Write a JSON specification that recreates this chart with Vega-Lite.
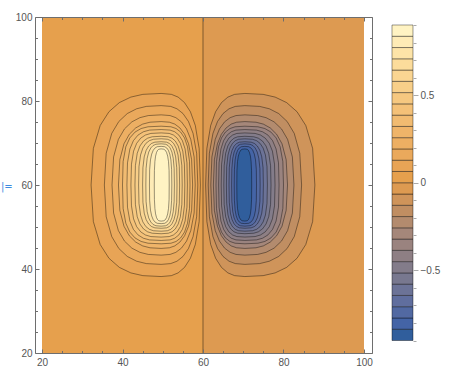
{
"$schema":"https://vega.github.io/schema/vega-lite/v6.json",
"background":"white",
"padding":{"left":0,"top":12,"right":5,"bottom":5},
"width":337,"height":336,
"config":{"view":{"stroke":null},"axis":{"labelFont":"Liberation Sans","labelFontSize":10,"labelColor":"#555555","tickColor":"#6e6e6e","domainColor":"#6e6e6e","grid":false,"labelFlush":false,"labelOverlap":false}},
"datasets":{
"bg":[{"x1":20,"x2":60,"y1":20,"y2":100,"b":0},{"x1":60,"x2":100,"y1":20,"y2":100,"b":-1}],
"zero":[{"x":60,"y1":20,"y2":100}],
"glyph":[{"label":"|="}],
"bands":[
{"b":-14,"lo":-0.9,"hi":-0.8357},{"b":-13,"lo":-0.8357,"hi":-0.7714},{"b":-12,"lo":-0.7714,"hi":-0.7071},{"b":-11,"lo":-0.7071,"hi":-0.6429},{"b":-10,"lo":-0.6429,"hi":-0.5786},{"b":-9,"lo":-0.5786,"hi":-0.5143},{"b":-8,"lo":-0.5143,"hi":-0.45},{"b":-7,"lo":-0.45,"hi":-0.3857},{"b":-6,"lo":-0.3857,"hi":-0.3214},{"b":-5,"lo":-0.3214,"hi":-0.2571},{"b":-4,"lo":-0.2571,"hi":-0.1929},{"b":-3,"lo":-0.1929,"hi":-0.1286},{"b":-2,"lo":-0.1286,"hi":-0.0643},{"b":-1,"lo":-0.0643,"hi":0},
{"b":0,"lo":0,"hi":0.0643},{"b":1,"lo":0.0643,"hi":0.1286},{"b":2,"lo":0.1286,"hi":0.1929},{"b":3,"lo":0.1929,"hi":0.2571},{"b":4,"lo":0.2571,"hi":0.3214},{"b":5,"lo":0.3214,"hi":0.3857},{"b":6,"lo":0.3857,"hi":0.45},{"b":7,"lo":0.45,"hi":0.5143},{"b":8,"lo":0.5143,"hi":0.5786},{"b":9,"lo":0.5786,"hi":0.6429},{"b":10,"lo":0.6429,"hi":0.7071},{"b":11,"lo":0.7071,"hi":0.7714},{"b":12,"lo":0.7714,"hi":0.8357},{"b":13,"lo":0.8357,"hi":0.9}],
"cont":[
{"k":1,"n":-2,"y":38.2,"xa":49.6,"xb":49.6,"xc":70.4,"xd":70.4},
{"k":1,"n":-2,"y":38.42,"xa":45.05,"xb":52.15,"xc":67.85,"xd":74.95},
{"k":1,"n":-2,"y":39.07,"xa":42.07,"xb":53.82,"xc":66.18,"xd":77.93},
{"k":1,"n":-2,"y":40.38,"xa":39.22,"xb":55.41,"xc":64.59,"xd":80.78},
{"k":1,"n":-2,"y":42.56,"xa":36.63,"xb":56.87,"xc":63.13,"xd":83.37},
{"k":1,"n":-2,"y":45.83,"xa":34.46,"xb":58.09,"xc":61.91,"xd":85.54},
{"k":1,"n":-2,"y":51.28,"xa":32.76,"xb":59.04,"xc":60.96,"xd":87.24},
{"k":1,"n":-2,"y":60,"xa":32.2,"xb":59.35,"xc":60.65,"xd":87.8},
{"k":1,"n":-2,"y":68.72,"xa":32.76,"xb":59.04,"xc":60.96,"xd":87.24},
{"k":1,"n":-2,"y":74.17,"xa":34.46,"xb":58.09,"xc":61.91,"xd":85.54},
{"k":1,"n":-2,"y":77.44,"xa":36.63,"xb":56.87,"xc":63.13,"xd":83.37},
{"k":1,"n":-2,"y":79.62,"xa":39.22,"xb":55.41,"xc":64.59,"xd":80.78},
{"k":1,"n":-2,"y":80.93,"xa":42.07,"xb":53.82,"xc":66.18,"xd":77.93},
{"k":1,"n":-2,"y":81.58,"xa":45.05,"xb":52.15,"xc":67.85,"xd":74.95},
{"k":1,"n":-2,"y":81.8,"xa":49.6,"xb":49.6,"xc":70.4,"xd":70.4},
{"k":2,"n":-3,"y":41.1,"xa":49.6,"xb":49.6,"xc":70.4,"xd":70.4},
{"k":2,"n":-3,"y":41.29,"xa":45.91,"xb":51.98,"xc":68.02,"xd":74.09},
{"k":2,"n":-3,"y":41.86,"xa":43.5,"xb":53.54,"xc":66.46,"xd":76.5},
{"k":2,"n":-3,"y":42.99,"xa":41.19,"xb":55.03,"xc":64.97,"xd":78.81},
{"k":2,"n":-3,"y":44.88,"xa":39.09,"xb":56.39,"xc":63.61,"xd":80.91},
{"k":2,"n":-3,"y":47.71,"xa":37.33,"xb":57.53,"xc":62.47,"xd":82.67},
{"k":2,"n":-3,"y":52.44,"xa":35.95,"xb":58.42,"xc":61.58,"xd":84.05},
{"k":2,"n":-3,"y":60,"xa":35.5,"xb":58.71,"xc":61.29,"xd":84.5},
{"k":2,"n":-3,"y":67.56,"xa":35.95,"xb":58.42,"xc":61.58,"xd":84.05},
{"k":2,"n":-3,"y":72.29,"xa":37.33,"xb":57.53,"xc":62.47,"xd":82.67},
{"k":2,"n":-3,"y":75.12,"xa":39.09,"xb":56.39,"xc":63.61,"xd":80.91},
{"k":2,"n":-3,"y":77.01,"xa":41.19,"xb":55.03,"xc":64.97,"xd":78.81},
{"k":2,"n":-3,"y":78.14,"xa":43.5,"xb":53.54,"xc":66.46,"xd":76.5},
{"k":2,"n":-3,"y":78.71,"xa":45.91,"xb":51.98,"xc":68.02,"xd":74.09},
{"k":2,"n":-3,"y":78.9,"xa":49.6,"xb":49.6,"xc":70.4,"xd":70.4},
{"k":3,"n":-4,"y":43.3,"xa":49.6,"xb":49.6,"xc":70.4,"xd":70.4},
{"k":3,"n":-4,"y":43.47,"xa":46.41,"xb":51.81,"xc":68.19,"xd":73.59},
{"k":3,"n":-4,"y":43.97,"xa":44.32,"xb":53.26,"xc":66.74,"xd":75.68},
{"k":3,"n":-4,"y":44.97,"xa":42.33,"xb":54.64,"xc":65.36,"xd":77.67},
{"k":3,"n":-4,"y":46.64,"xa":40.5,"xb":55.91,"xc":64.09,"xd":79.5},
{"k":3,"n":-4,"y":49.14,"xa":38.98,"xb":56.96,"xc":63.04,"xd":81.02},
{"k":3,"n":-4,"y":53.32,"xa":37.79,"xb":57.79,"xc":62.21,"xd":82.21},
{"k":3,"n":-4,"y":60,"xa":37.4,"xb":58.06,"xc":61.94,"xd":82.6},
{"k":3,"n":-4,"y":66.68,"xa":37.79,"xb":57.79,"xc":62.21,"xd":82.21},
{"k":3,"n":-4,"y":70.86,"xa":38.98,"xb":56.96,"xc":63.04,"xd":81.02},
{"k":3,"n":-4,"y":73.36,"xa":40.5,"xb":55.91,"xc":64.09,"xd":79.5},
{"k":3,"n":-4,"y":75.03,"xa":42.33,"xb":54.64,"xc":65.36,"xd":77.67},
{"k":3,"n":-4,"y":76.03,"xa":44.32,"xb":53.26,"xc":66.74,"xd":75.68},
{"k":3,"n":-4,"y":76.53,"xa":46.41,"xb":51.81,"xc":68.19,"xd":73.59},
{"k":3,"n":-4,"y":76.7,"xa":49.6,"xb":49.6,"xc":70.4,"xd":70.4},
{"k":4,"n":-5,"y":44.9,"xa":49.6,"xb":49.6,"xc":70.4,"xd":70.4},
{"k":4,"n":-5,"y":45.05,"xa":46.83,"xb":51.65,"xc":68.35,"xd":73.17},
{"k":4,"n":-5,"y":45.5,"xa":45.01,"xb":52.99,"xc":67.01,"xd":74.99},
{"k":4,"n":-5,"y":46.41,"xa":43.28,"xb":54.26,"xc":65.74,"xd":76.72},
{"k":4,"n":-5,"y":47.92,"xa":41.7,"xb":55.43,"xc":64.57,"xd":78.3},
{"k":4,"n":-5,"y":50.18,"xa":40.37,"xb":56.41,"xc":63.59,"xd":79.63},
{"k":4,"n":-5,"y":53.96,"xa":39.34,"xb":57.17,"xc":62.83,"xd":80.66},
{"k":4,"n":-5,"y":60,"xa":39.0,"xb":57.42,"xc":62.58,"xd":81.0},
{"k":4,"n":-5,"y":66.04,"xa":39.34,"xb":57.17,"xc":62.83,"xd":80.66},
{"k":4,"n":-5,"y":69.82,"xa":40.37,"xb":56.41,"xc":63.59,"xd":79.63},
{"k":4,"n":-5,"y":72.08,"xa":41.7,"xb":55.43,"xc":64.57,"xd":78.3},
{"k":4,"n":-5,"y":73.59,"xa":43.28,"xb":54.26,"xc":65.74,"xd":76.72},
{"k":4,"n":-5,"y":74.5,"xa":45.01,"xb":52.99,"xc":67.01,"xd":74.99},
{"k":4,"n":-5,"y":74.95,"xa":46.83,"xb":51.65,"xc":68.35,"xd":73.17},
{"k":4,"n":-5,"y":75.1,"xa":49.6,"xb":49.6,"xc":70.4,"xd":70.4},
{"k":5,"n":-6,"y":46.0,"xa":49.6,"xb":49.6,"xc":70.4,"xd":70.4},
{"k":5,"n":-6,"y":46.14,"xa":46.34,"xb":52.04,"xc":67.96,"xd":73.66},
{"k":5,"n":-6,"y":46.56,"xa":44.62,"xb":53.32,"xc":66.68,"xd":75.38},
{"k":5,"n":-6,"y":47.4,"xa":43.11,"xb":54.45,"xc":65.55,"xd":76.89},
{"k":5,"n":-6,"y":48.8,"xa":41.82,"xb":55.41,"xc":64.59,"xd":78.18},
{"k":5,"n":-6,"y":50.9,"xa":40.83,"xb":56.15,"xc":63.85,"xd":79.17},
{"k":5,"n":-6,"y":54.4,"xa":40.16,"xb":56.65,"xc":63.35,"xd":79.84},
{"k":5,"n":-6,"y":60,"xa":40.0,"xb":56.77,"xc":63.23,"xd":80.0},
{"k":5,"n":-6,"y":65.6,"xa":40.16,"xb":56.65,"xc":63.35,"xd":79.84},
{"k":5,"n":-6,"y":69.1,"xa":40.83,"xb":56.15,"xc":63.85,"xd":79.17},
{"k":5,"n":-6,"y":71.2,"xa":41.82,"xb":55.41,"xc":64.59,"xd":78.18},
{"k":5,"n":-6,"y":72.6,"xa":43.11,"xb":54.45,"xc":65.55,"xd":76.89},
{"k":5,"n":-6,"y":73.44,"xa":44.62,"xb":53.32,"xc":66.68,"xd":75.38},
{"k":5,"n":-6,"y":73.86,"xa":46.34,"xb":52.04,"xc":67.96,"xd":73.66},
{"k":5,"n":-6,"y":74.0,"xa":49.6,"xb":49.6,"xc":70.4,"xd":70.4},
{"k":6,"n":-7,"y":46.8,"xa":49.6,"xb":49.6,"xc":70.4,"xd":70.4},
{"k":6,"n":-7,"y":46.93,"xa":46.71,"xb":51.82,"xc":68.18,"xd":73.29},
{"k":6,"n":-7,"y":47.33,"xa":45.19,"xb":52.98,"xc":67.02,"xd":74.81},
{"k":6,"n":-7,"y":48.12,"xa":43.85,"xb":54.01,"xc":65.99,"xd":76.15},
{"k":6,"n":-7,"y":49.44,"xa":42.71,"xb":54.88,"xc":65.12,"xd":77.29},
{"k":6,"n":-7,"y":51.42,"xa":41.84,"xb":55.55,"xc":64.45,"xd":78.16},
{"k":6,"n":-7,"y":54.72,"xa":41.24,"xb":56.01,"xc":63.99,"xd":78.76},
{"k":6,"n":-7,"y":60,"xa":41.1,"xb":56.12,"xc":63.88,"xd":78.9},
{"k":6,"n":-7,"y":65.28,"xa":41.24,"xb":56.01,"xc":63.99,"xd":78.76},
{"k":6,"n":-7,"y":68.58,"xa":41.84,"xb":55.55,"xc":64.45,"xd":78.16},
{"k":6,"n":-7,"y":70.56,"xa":42.71,"xb":54.88,"xc":65.12,"xd":77.29},
{"k":6,"n":-7,"y":71.88,"xa":43.85,"xb":54.01,"xc":65.99,"xd":76.15},
{"k":6,"n":-7,"y":72.67,"xa":45.19,"xb":52.98,"xc":67.02,"xd":74.81},
{"k":6,"n":-7,"y":73.07,"xa":46.71,"xb":51.82,"xc":68.18,"xd":73.29},
{"k":6,"n":-7,"y":73.2,"xa":49.6,"xb":49.6,"xc":70.4,"xd":70.4},
{"k":7,"n":-8,"y":47.6,"xa":49.6,"xb":49.6,"xc":70.4,"xd":70.4},
{"k":7,"n":-8,"y":47.72,"xa":47.05,"xb":51.6,"xc":68.4,"xd":72.95},
{"k":7,"n":-8,"y":48.1,"xa":45.71,"xb":52.65,"xc":67.35,"xd":74.29},
{"k":7,"n":-8,"y":48.84,"xa":44.53,"xb":53.58,"xc":66.42,"xd":75.47},
{"k":7,"n":-8,"y":50.08,"xa":43.52,"xb":54.37,"xc":65.63,"xd":76.48},
{"k":7,"n":-8,"y":51.94,"xa":42.75,"xb":54.97,"xc":65.03,"xd":77.25},
{"k":7,"n":-8,"y":55.04,"xa":42.23,"xb":55.38,"xc":64.62,"xd":77.77},
{"k":7,"n":-8,"y":60,"xa":42.1,"xb":55.48,"xc":64.52,"xd":77.9},
{"k":7,"n":-8,"y":64.96,"xa":42.23,"xb":55.38,"xc":64.62,"xd":77.77},
{"k":7,"n":-8,"y":68.06,"xa":42.75,"xb":54.97,"xc":65.03,"xd":77.25},
{"k":7,"n":-8,"y":69.92,"xa":43.52,"xb":54.37,"xc":65.63,"xd":76.48},
{"k":7,"n":-8,"y":71.16,"xa":44.53,"xb":53.58,"xc":66.42,"xd":75.47},
{"k":7,"n":-8,"y":71.9,"xa":45.71,"xb":52.65,"xc":67.35,"xd":74.29},
{"k":7,"n":-8,"y":72.28,"xa":47.05,"xb":51.6,"xc":68.4,"xd":72.95},
{"k":7,"n":-8,"y":72.4,"xa":49.6,"xb":49.6,"xc":70.4,"xd":70.4},
{"k":8,"n":-9,"y":48.4,"xa":49.6,"xb":49.6,"xc":70.4,"xd":70.4},
{"k":8,"n":-9,"y":48.52,"xa":47.39,"xb":51.38,"xc":68.62,"xd":72.61},
{"k":8,"n":-9,"y":48.86,"xa":46.23,"xb":52.31,"xc":67.69,"xd":73.77},
{"k":8,"n":-9,"y":49.56,"xa":45.2,"xb":53.14,"xc":66.86,"xd":74.8},
{"k":8,"n":-9,"y":50.72,"xa":44.33,"xb":53.84,"xc":66.16,"xd":75.67},
{"k":8,"n":-9,"y":52.46,"xa":43.66,"xb":54.38,"xc":65.62,"xd":76.34},
{"k":8,"n":-9,"y":55.36,"xa":43.21,"xb":54.74,"xc":65.26,"xd":76.79},
{"k":8,"n":-9,"y":60,"xa":43.1,"xb":54.83,"xc":65.17,"xd":76.9},
{"k":8,"n":-9,"y":64.64,"xa":43.21,"xb":54.74,"xc":65.26,"xd":76.79},
{"k":8,"n":-9,"y":67.54,"xa":43.66,"xb":54.38,"xc":65.62,"xd":76.34},
{"k":8,"n":-9,"y":69.28,"xa":44.33,"xb":53.84,"xc":66.16,"xd":75.67},
{"k":8,"n":-9,"y":70.44,"xa":45.2,"xb":53.14,"xc":66.86,"xd":74.8},
{"k":8,"n":-9,"y":71.14,"xa":46.23,"xb":52.31,"xc":67.69,"xd":73.77},
{"k":8,"n":-9,"y":71.48,"xa":47.39,"xb":51.38,"xc":68.62,"xd":72.61},
{"k":8,"n":-9,"y":71.6,"xa":49.6,"xb":49.6,"xc":70.4,"xd":70.4},
{"k":9,"n":-10,"y":49.0,"xa":49.6,"xb":49.6,"xc":70.4,"xd":70.4},
{"k":9,"n":-10,"y":49.11,"xa":47.7,"xb":51.16,"xc":68.84,"xd":72.3},
{"k":9,"n":-10,"y":49.44,"xa":46.69,"xb":51.98,"xc":68.02,"xd":73.31},
{"k":9,"n":-10,"y":50.1,"xa":45.81,"xb":52.7,"xc":67.3,"xd":74.19},
{"k":9,"n":-10,"y":51.2,"xa":45.06,"xb":53.32,"xc":66.68,"xd":74.94},
{"k":9,"n":-10,"y":52.85,"xa":44.49,"xb":53.79,"xc":66.21,"xd":75.51},
{"k":9,"n":-10,"y":55.6,"xa":44.1,"xb":54.11,"xc":65.89,"xd":75.9},
{"k":9,"n":-10,"y":60,"xa":44.0,"xb":54.19,"xc":65.81,"xd":76.0},
{"k":9,"n":-10,"y":64.4,"xa":44.1,"xb":54.11,"xc":65.89,"xd":75.9},
{"k":9,"n":-10,"y":67.15,"xa":44.49,"xb":53.79,"xc":66.21,"xd":75.51},
{"k":9,"n":-10,"y":68.8,"xa":45.06,"xb":53.32,"xc":66.68,"xd":74.94},
{"k":9,"n":-10,"y":69.9,"xa":45.81,"xb":52.7,"xc":67.3,"xd":74.19},
{"k":9,"n":-10,"y":70.56,"xa":46.69,"xb":51.98,"xc":68.02,"xd":73.31},
{"k":9,"n":-10,"y":70.89,"xa":47.7,"xb":51.16,"xc":68.84,"xd":72.3},
{"k":9,"n":-10,"y":71.0,"xa":49.6,"xb":49.6,"xc":70.4,"xd":70.4},
{"k":10,"n":-11,"y":49.7,"xa":49.6,"xb":49.6,"xc":70.4,"xd":70.4},
{"k":10,"n":-11,"y":49.8,"xa":48.04,"xb":50.94,"xc":69.06,"xd":71.96},
{"k":10,"n":-11,"y":50.11,"xa":47.21,"xb":51.64,"xc":68.36,"xd":72.79},
{"k":10,"n":-11,"y":50.73,"xa":46.49,"xb":52.27,"xc":67.73,"xd":73.51},
{"k":10,"n":-11,"y":51.76,"xa":45.87,"xb":52.79,"xc":67.21,"xd":74.13},
{"k":10,"n":-11,"y":53.3,"xa":45.4,"xb":53.2,"xc":66.8,"xd":74.6},
{"k":10,"n":-11,"y":55.88,"xa":45.08,"xb":53.47,"xc":66.53,"xd":74.92},
{"k":10,"n":-11,"y":60,"xa":45.0,"xb":53.54,"xc":66.46,"xd":75.0},
{"k":10,"n":-11,"y":64.12,"xa":45.08,"xb":53.47,"xc":66.53,"xd":74.92},
{"k":10,"n":-11,"y":66.7,"xa":45.4,"xb":53.2,"xc":66.8,"xd":74.6},
{"k":10,"n":-11,"y":68.24,"xa":45.87,"xb":52.79,"xc":67.21,"xd":74.13},
{"k":10,"n":-11,"y":69.27,"xa":46.49,"xb":52.27,"xc":67.73,"xd":73.51},
{"k":10,"n":-11,"y":69.89,"xa":47.21,"xb":51.64,"xc":68.36,"xd":72.79},
{"k":10,"n":-11,"y":70.2,"xa":48.04,"xb":50.94,"xc":69.06,"xd":71.96},
{"k":10,"n":-11,"y":70.3,"xa":49.6,"xb":49.6,"xc":70.4,"xd":70.4},
{"k":11,"n":-12,"y":50.2,"xa":49.6,"xb":49.6,"xc":70.4,"xd":70.4},
{"k":11,"n":-12,"y":50.3,"xa":48.31,"xb":50.72,"xc":69.28,"xd":71.69},
{"k":11,"n":-12,"y":50.59,"xa":47.63,"xb":51.31,"xc":68.69,"xd":72.37},
{"k":11,"n":-12,"y":51.18,"xa":47.03,"xb":51.83,"xc":68.17,"xd":72.97},
{"k":11,"n":-12,"y":52.16,"xa":46.52,"xb":52.27,"xc":67.73,"xd":73.48},
{"k":11,"n":-12,"y":53.63,"xa":46.13,"xb":52.6,"xc":67.4,"xd":73.87},
{"k":11,"n":-12,"y":56.08,"xa":45.86,"xb":52.83,"xc":67.17,"xd":74.14},
{"k":11,"n":-12,"y":60,"xa":45.8,"xb":52.89,"xc":67.11,"xd":74.2},
{"k":11,"n":-12,"y":63.92,"xa":45.86,"xb":52.83,"xc":67.17,"xd":74.14},
{"k":11,"n":-12,"y":66.37,"xa":46.13,"xb":52.6,"xc":67.4,"xd":73.87},
{"k":11,"n":-12,"y":67.84,"xa":46.52,"xb":52.27,"xc":67.73,"xd":73.48},
{"k":11,"n":-12,"y":68.82,"xa":47.03,"xb":51.83,"xc":68.17,"xd":72.97},
{"k":11,"n":-12,"y":69.41,"xa":47.63,"xb":51.31,"xc":68.69,"xd":72.37},
{"k":11,"n":-12,"y":69.7,"xa":48.31,"xb":50.72,"xc":69.28,"xd":71.69},
{"k":11,"n":-12,"y":69.8,"xa":49.6,"xb":49.6,"xc":70.4,"xd":70.4},
{"k":12,"n":-13,"y":50.8,"xa":49.6,"xb":49.6,"xc":70.4,"xd":70.4},
{"k":12,"n":-13,"y":50.89,"xa":48.61,"xb":50.5,"xc":69.5,"xd":71.39},
{"k":12,"n":-13,"y":51.17,"xa":48.1,"xb":50.98,"xc":69.02,"xd":71.9},
{"k":12,"n":-13,"y":51.72,"xa":47.64,"xb":51.39,"xc":68.61,"xd":72.36},
{"k":12,"n":-13,"y":52.64,"xa":47.25,"xb":51.75,"xc":68.25,"xd":72.75},
{"k":12,"n":-13,"y":54.02,"xa":46.95,"xb":52.02,"xc":67.98,"xd":73.05},
{"k":12,"n":-13,"y":56.32,"xa":46.75,"xb":52.2,"xc":67.8,"xd":73.25},
{"k":12,"n":-13,"y":60,"xa":46.7,"xb":52.25,"xc":67.75,"xd":73.3},
{"k":12,"n":-13,"y":63.68,"xa":46.75,"xb":52.2,"xc":67.8,"xd":73.25},
{"k":12,"n":-13,"y":65.98,"xa":46.95,"xb":52.02,"xc":67.98,"xd":73.05},
{"k":12,"n":-13,"y":67.36,"xa":47.25,"xb":51.75,"xc":68.25,"xd":72.75},
{"k":12,"n":-13,"y":68.28,"xa":47.64,"xb":51.39,"xc":68.61,"xd":72.36},
{"k":12,"n":-13,"y":68.83,"xa":48.1,"xb":50.98,"xc":69.02,"xd":71.9},
{"k":12,"n":-13,"y":69.11,"xa":48.61,"xb":50.5,"xc":69.5,"xd":71.39},
{"k":12,"n":-13,"y":69.2,"xa":49.6,"xb":49.6,"xc":70.4,"xd":70.4},
{"k":13,"n":-14,"y":51.4,"xa":49.6,"xb":49.6,"xc":70.4,"xd":70.4},
{"k":13,"n":-14,"y":51.49,"xa":49.02,"xb":50.28,"xc":69.72,"xd":70.98},
{"k":13,"n":-14,"y":51.74,"xa":48.72,"xb":50.64,"xc":69.36,"xd":71.28},
{"k":13,"n":-14,"y":52.26,"xa":48.45,"xb":50.95,"xc":69.05,"xd":71.55},
{"k":13,"n":-14,"y":53.12,"xa":48.22,"xb":51.22,"xc":68.78,"xd":71.78},
{"k":13,"n":-14,"y":54.41,"xa":48.05,"xb":51.43,"xc":68.57,"xd":71.95},
{"k":13,"n":-14,"y":56.56,"xa":47.93,"xb":51.57,"xc":68.43,"xd":72.07},
{"k":13,"n":-14,"y":60,"xa":47.9,"xb":51.6,"xc":68.4,"xd":72.1},
{"k":13,"n":-14,"y":63.44,"xa":47.93,"xb":51.57,"xc":68.43,"xd":72.07},
{"k":13,"n":-14,"y":65.59,"xa":48.05,"xb":51.43,"xc":68.57,"xd":71.95},
{"k":13,"n":-14,"y":66.88,"xa":48.22,"xb":51.22,"xc":68.78,"xd":71.78},
{"k":13,"n":-14,"y":67.74,"xa":48.45,"xb":50.95,"xc":69.05,"xd":71.55},
{"k":13,"n":-14,"y":68.26,"xa":48.72,"xb":50.64,"xc":69.36,"xd":71.28},
{"k":13,"n":-14,"y":68.51,"xa":49.02,"xb":50.28,"xc":69.72,"xd":70.98},
{"k":13,"n":-14,"y":68.6,"xa":49.6,"xb":49.6,"xc":70.4,"xd":70.4}
]},
"layer":[
{"data":{"name":"bg"},"mark":{"type":"rect"},
 "encoding":{
  "x":{"field":"x1","type":"quantitative","scale":{"domain":[18.26,101.99],"nice":false,"zero":false},"axis":{"orient":"bottom","values":[20,40,60,80,100],"tickSize":-4,"labelPadding":8,"title":null,"zindex":1}},
  "x2":{"field":"x2"},
  "y":{"field":"y1","type":"quantitative","scale":{"domain":[20,100],"nice":false,"zero":false},"axis":{"orient":"left","values":[20,40,60,80,100],"tickSize":-4,"labelPadding":7,"title":null,"zindex":1}},
  "y2":{"field":"y2"},
  "color":{"field":"b","type":"quantitative","scale":{"type":"linear","domain":[-14,-13,-11,-9,-7,-5,-3,-1,0,1,4,7,10,13],"range":["#305e9c","#4464a6","#606e9e","#78788f","#8e7f84","#a5877a","#c08e62","#dd9a51","#e6a04d","#e8a456","#efb469","#f6c880","#fcdc9b","#fff3c3"],"interpolate":"rgb"},"legend":null}
 }},
{"data":{"name":"cont"},"mark":{"type":"area","orient":"horizontal","stroke":"#000000","strokeOpacity":0.5,"strokeWidth":0.8},
 "encoding":{
  "y":{"field":"y","type":"quantitative","scale":{"domain":[20,100],"nice":false,"zero":false},"axis":{"orient":"right","values":[20,40,60,80,100],"tickSize":-4,"labels":false,"title":null,"zindex":1}},
  "x":{"field":"xa","type":"quantitative","stack":null,"scale":{"domain":[18.26,101.99],"nice":false,"zero":false},"axis":{"orient":"top","values":[20,40,60,80,100],"tickSize":-4,"labels":false,"title":null,"zindex":1}},
  "x2":{"field":"xb"},
  "detail":{"field":"k","type":"nominal"},
  "color":{"field":"k","type":"quantitative","scale":{"type":"linear","domain":[-14,-13,-11,-9,-7,-5,-3,-1,0,1,4,7,10,13],"range":["#305e9c","#4464a6","#606e9e","#78788f","#8e7f84","#a5877a","#c08e62","#dd9a51","#e6a04d","#e8a456","#efb469","#f6c880","#fcdc9b","#fff3c3"],"interpolate":"rgb"},"legend":null}
 }},
{"data":{"name":"cont"},"mark":{"type":"area","orient":"horizontal","stroke":"#000000","strokeOpacity":0.5,"strokeWidth":0.8},
 "encoding":{
  "y":{"field":"y","type":"quantitative","scale":{"domain":[20,100],"nice":false,"zero":false},"axis":{"orient":"left","values":[25,30,35,45,50,55,65,70,75,85,90,95],"tickSize":-2.5,"labels":false,"domain":false,"title":null,"zindex":1}},
  "x":{"field":"xc","type":"quantitative","stack":null,"scale":{"domain":[18.26,101.99],"nice":false,"zero":false},"axis":{"orient":"bottom","values":[25,30,35,45,50,55,65,70,75,85,90,95],"tickSize":-2.5,"labels":false,"domain":false,"title":null,"zindex":1}},
  "x2":{"field":"xd"},
  "detail":{"field":"k","type":"nominal"},
  "color":{"field":"n","type":"quantitative","scale":{"type":"linear","domain":[-14,-13,-11,-9,-7,-5,-3,-1,0,1,4,7,10,13],"range":["#305e9c","#4464a6","#606e9e","#78788f","#8e7f84","#a5877a","#c08e62","#dd9a51","#e6a04d","#e8a456","#efb469","#f6c880","#fcdc9b","#fff3c3"],"interpolate":"rgb"},"legend":null}
 }},
{"data":{"name":"zero"},"mark":{"type":"rule","color":"#000000","opacity":0.55,"strokeWidth":0.8},
 "encoding":{
  "x":{"field":"x","type":"quantitative","scale":{"domain":[18.26,101.99],"nice":false,"zero":false},"axis":{"orient":"top","values":[25,30,35,45,50,55,65,70,75,85,90,95],"tickSize":-2.5,"labels":false,"domain":false,"title":null,"zindex":1}},
  "y":{"field":"y1","type":"quantitative","scale":{"domain":[20,100],"nice":false,"zero":false},"axis":{"orient":"right","values":[25,30,35,45,50,55,65,70,75,85,90,95],"tickSize":-2.5,"labels":false,"domain":false,"title":null,"zindex":1}},
  "y2":{"field":"y2"}
 }},
{"data":{"name":"glyph"},"mark":{"type":"text","font":"DejaVu Sans","fontSize":10,"color":"#3d8be0","align":"left","baseline":"middle"},
 "encoding":{
  "x":{"datum":9.81,"type":"quantitative","scale":{"domain":[18.26,101.99],"nice":false,"zero":false},"axis":null},
  "y":{"datum":59.5,"type":"quantitative","scale":{"domain":[20,100],"nice":false,"zero":false},"axis":null},
  "text":{"field":"label"}
 }},
{"data":{"name":"bands"},"mark":{"type":"rect","stroke":"#000000","strokeOpacity":0.5,"strokeWidth":0.8},
 "encoding":{
  "x":{"datum":0,"type":"quantitative","scale":{"domain":[-17,-0.952],"nice":false,"zero":false},"axis":null},
  "x2":{"datum":1},
  "y":{"field":"lo","type":"quantitative","scale":{"domain":[-0.9713,0.9456],"nice":false,"zero":false},"axis":{"orient":"right","offset":41,"values":[-0.5,0,0.5],"tickSize":5,"labelPadding":2,"domain":false,"title":null,"tickColor":"#aaaaaa","labelExpr":"datum.value == 0 ? '0' : format(datum.value, '.1f')","zindex":1}},
  "y2":{"field":"hi"},
  "color":{"field":"b","type":"quantitative","scale":{"type":"linear","domain":[-14,-13,-11,-9,-7,-5,-3,-1,0,1,4,7,10,13],"range":["#305e9c","#4464a6","#606e9e","#78788f","#8e7f84","#a5877a","#c08e62","#dd9a51","#e6a04d","#e8a456","#efb469","#f6c880","#fcdc9b","#fff3c3"],"interpolate":"rgb"},"legend":null}
 }},
{"data":{"name":"bands"},"mark":{"type":"rect","opacity":0},
 "encoding":{
  "x":{"datum":0,"type":"quantitative","scale":{"domain":[-17,-0.952],"nice":false,"zero":false},"axis":null},
  "x2":{"datum":1},
  "y":{"field":"lo","type":"quantitative","scale":{"domain":[-0.9713,0.9456],"nice":false,"zero":false},"axis":{"orient":"right","offset":41,"values":[-0.9,-0.8,-0.7,-0.6,-0.4,-0.3,-0.2,-0.1,0.1,0.2,0.3,0.4,0.6,0.7,0.8,0.9],"tickSize":3,"labels":false,"domain":false,"title":null,"tickColor":"#aaaaaa","zindex":1}},
  "y2":{"field":"hi"}
 }}
],
"resolve":{"scale":{"x":"independent","y":"independent"},"axis":{"x":"independent","y":"independent"}}
}
